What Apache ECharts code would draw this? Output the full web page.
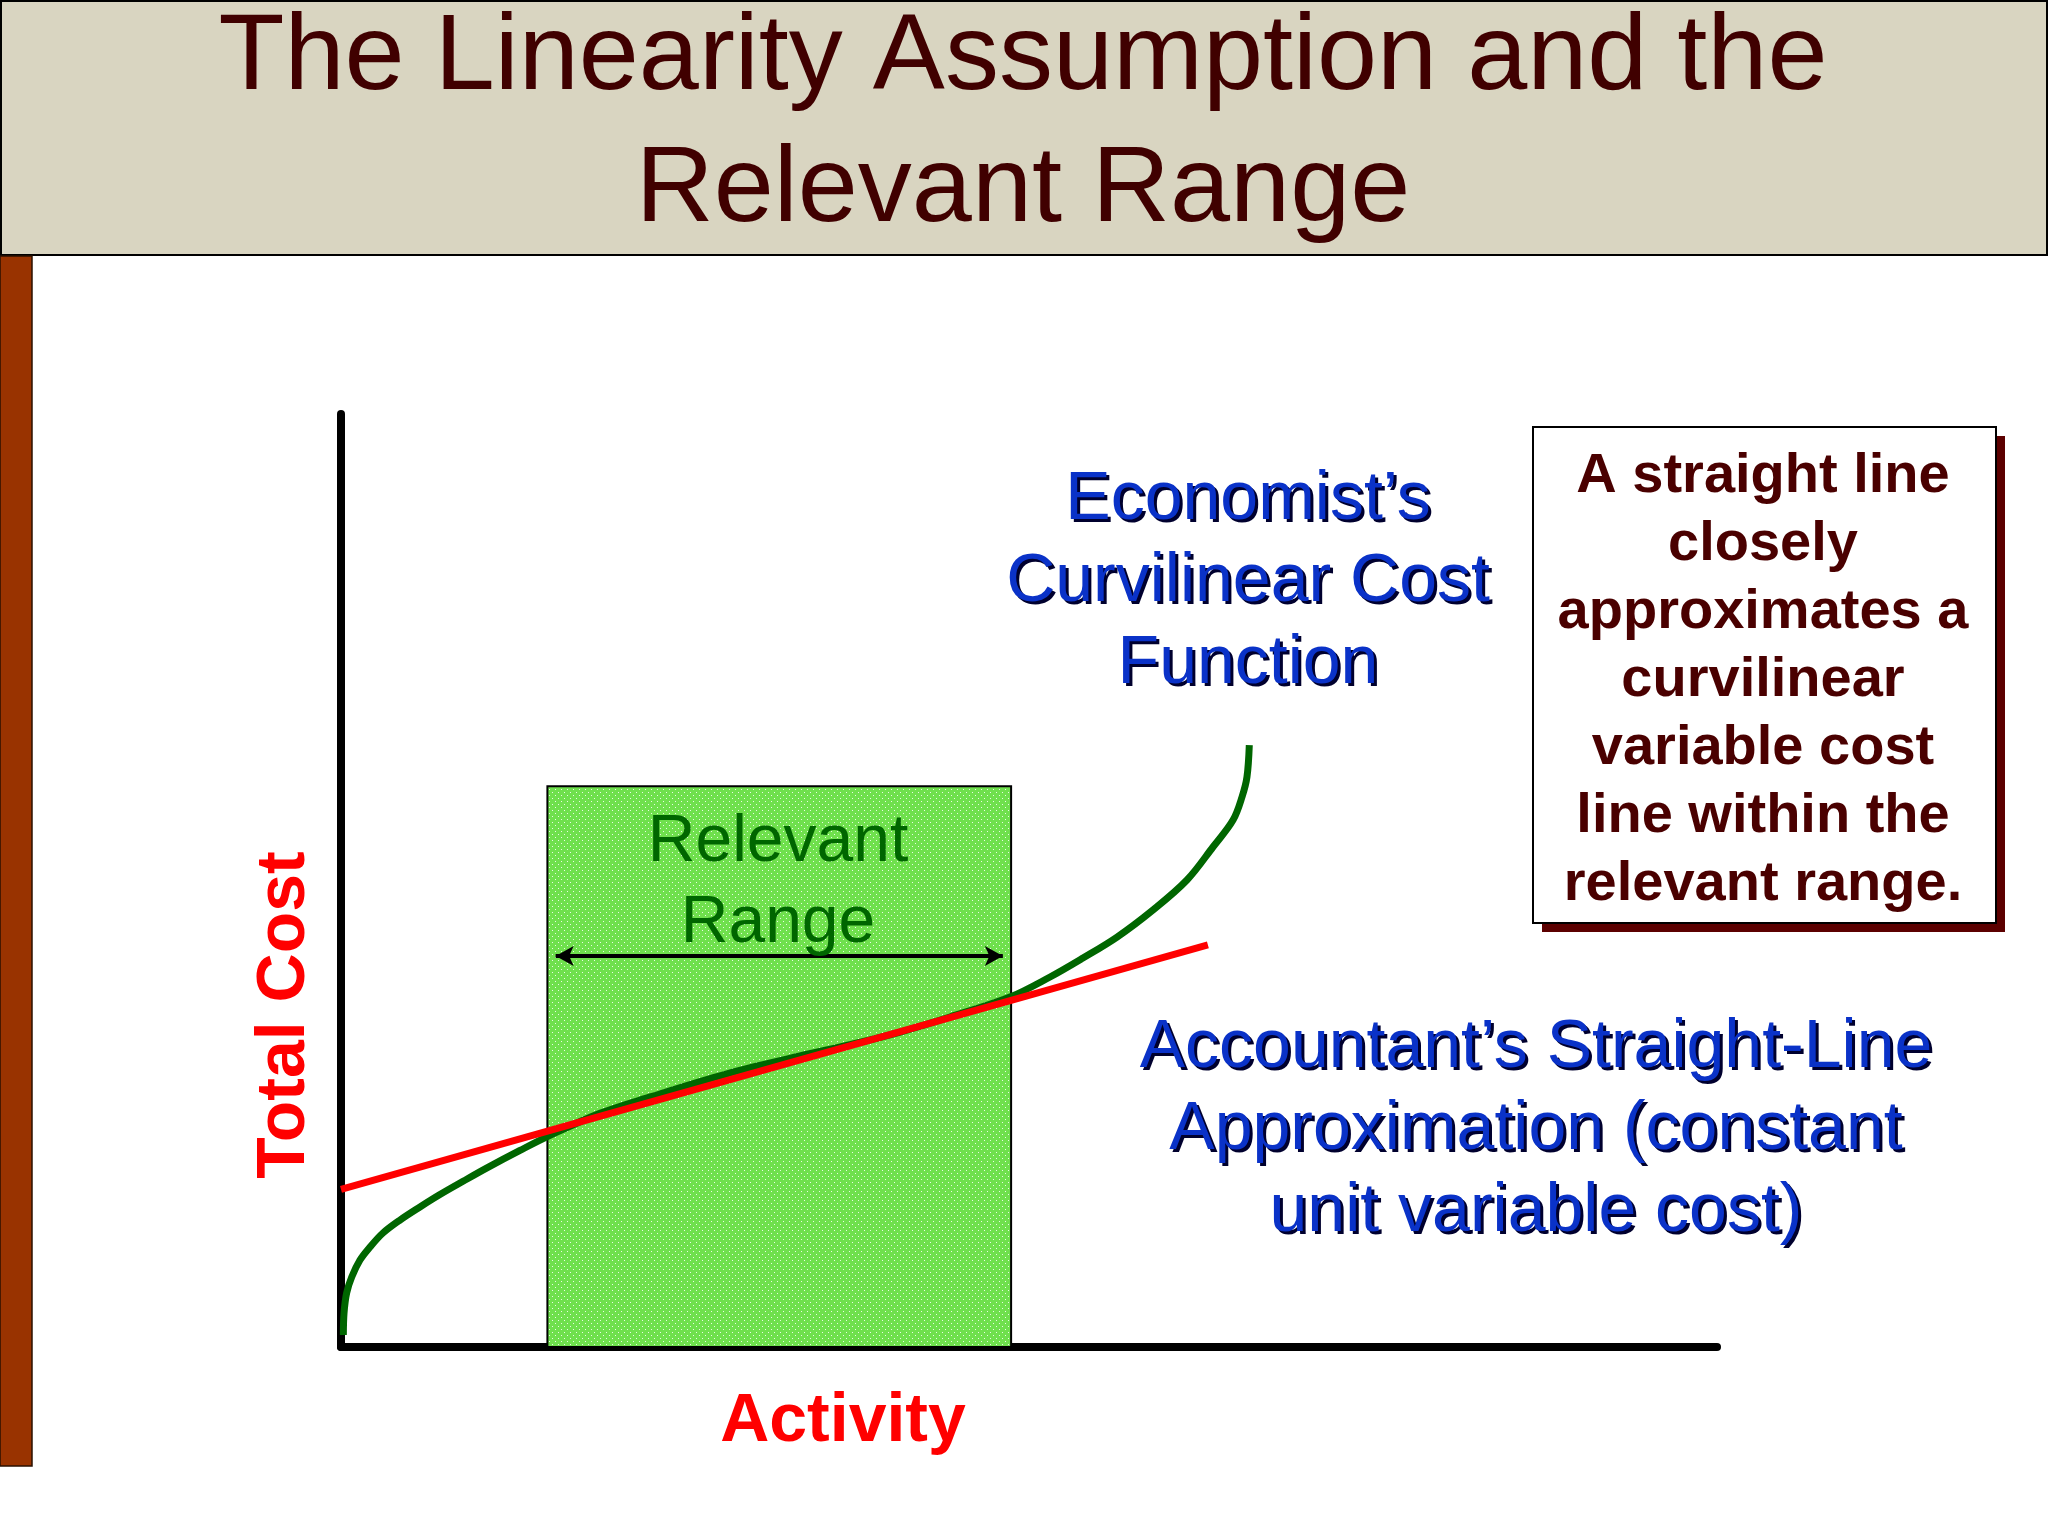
<!DOCTYPE html>
<html>
<head>
<meta charset="utf-8">
<script src="https://cdn.jsdelivr.net/npm/echarts@6/dist/echarts.min.js"></script>
<style>
html,body{margin:0;padding:0;background:#fff;}
#chart{width:2048px;height:1536px;}
</style>
</head>
<body>
<div id="chart"></div>
<script>
// ---- data (chart units: activity 0-100, total cost 0-100) ----
const curveActivity = [0.17, 0.22, 0.41, 0.78, 1.38, 2.11, 3.05, 4.29, 5.74, 7.19, 8.87, 10.61, 13.01, 15.19, 18.82, 22.46, 28.05, 33.36, 37.21, 40.63, 44.26, 48.62, 51.53, 53.92, 56.40, 59.01, 61.48, 63.37, 64.83, 65.48, 65.84, 66.01];
const curveCost     = [1.29, 3.64, 5.79, 7.50, 9.32, 10.72, 12.22, 13.61, 15.01, 16.34, 17.76, 19.20, 21.07, 22.68, 25.04, 26.80, 29.28, 31.19, 32.48, 33.76, 35.37, 37.51, 39.66, 41.69, 43.94, 46.84, 50.05, 53.59, 56.48, 58.95, 61.09, 64.52];
const lineActivity  = [0, 63.0];
const lineCost      = [16.9, 43.1];
const relevantRange = [15.0, 48.7];
const rangeTop      = 60.1;
const arrowLevel    = 41.9;

const titleLines = ['The Linearity Assumption and the', 'Relevant Range'];
const economistLabel = "Economist’s\nCurvilinear Cost\nFunction";
const accountantLabel = "Accountant’s Straight-Line\nApproximation (constant\nunit variable cost)";
const boxLabel = "A straight line\nclosely\napproximates a\ncurvilinear\nvariable cost\nline within the\nrelevant range.";
const rangeLabel = "Relevant\nRange";
const xName = 'Activity';
const yName = 'Total Cost';

const FONT = "'Liberation Sans', Arial, sans-serif";

// dotted green fill pattern
const pc = document.createElement('canvas');
pc.width = 6; pc.height = 6;
const g = pc.getContext('2d');
g.fillStyle = '#6fe04d'; g.fillRect(0, 0, 6, 6);
g.fillStyle = 'rgba(255,255,255,0.85)';
g.fillRect(0, 0, 1, 1); g.fillRect(3, 3, 1, 1);
const greenPattern = { image: pc, repeat: 'repeat' };

const chart = echarts.init(document.getElementById('chart'), null, { renderer: 'canvas' });

function blueText(text, x, y) {
  return [
    { type: 'text', z: 100, x: x + 3, y: y + 3, style: { text: text, fill: '#00002e', font: '68px ' + FONT, align: 'center', verticalAlign: 'middle', lineHeight: 82 } },
    { type: 'text', z: 101, x: x, y: y, style: { text: text, fill: '#0a32c8', font: '68px ' + FONT, align: 'center', verticalAlign: 'middle', lineHeight: 82 } }
  ];
}

const option = {
  animation: false,
  backgroundColor: '#ffffff',
  grid: { left: 341, right: 331, top: 414, bottom: 189, containLabel: false },
  xAxis: {
    type: 'value', min: 0, max: 100,
    axisLine: { show: true, lineStyle: { color: '#000', width: 8 } },
    axisTick: { show: false }, axisLabel: { show: false }, splitLine: { show: false }
  },
  yAxis: {
    type: 'value', min: 0, max: 100,
    axisLine: { show: true, lineStyle: { color: '#000', width: 8 } },
    axisTick: { show: false }, axisLabel: { show: false }, splitLine: { show: false }
  },
  series: [
    {
      type: 'custom', z: 1,
      data: [[relevantRange[0], relevantRange[1], rangeTop]],
      encode: { x: [0, 1], y: 2 },
      renderItem: function (params, api) {
        const p0 = api.coord([api.value(0), api.value(2)]);
        const p1 = api.coord([api.value(1), 0]);
        return {
          type: 'rect',
          shape: { x: p0[0], y: p0[1], width: p1[0] - p0[0], height: p1[1] - p0[1] },
          style: { fill: greenPattern, stroke: '#000', lineWidth: 2 }
        };
      },
      markLine: {
        silent: true,
        symbol: ['arrow', 'arrow'],
        symbolSize: [15, 18],
        lineStyle: { color: '#000', width: 4, type: 'solid' },
        label: { show: false },
        data: [[{ coord: [relevantRange[0] + 0.6, arrowLevel] }, { coord: [relevantRange[1] - 0.6, arrowLevel] }]]
      }
    },
    {
      type: 'line', z: 3,
      data: curveActivity.map((a, i) => [a, curveCost[i]]),
      smooth: 0.35,
      symbol: 'none',
      lineStyle: { color: '#006600', width: 7, cap: 'butt', join: 'round' }
    },
    {
      type: 'line', z: 4,
      data: lineActivity.map((a, i) => [a, lineCost[i]]),
      symbol: 'none',
      lineStyle: { color: '#ff0000', width: 7, cap: 'butt' }
    }
  ],
  graphic: [
    // title band
    { type: 'rect', z: 0, shape: { x: 1, y: 1, width: 2046, height: 254 }, style: { fill: '#d9d5c1', stroke: '#000', lineWidth: 2 } },
    { type: 'text', z: 10, x: 1023, y: 59, style: { text: titleLines[0], fill: '#400000', font: '108px ' + FONT, align: 'center', verticalAlign: 'middle' } },
    { type: 'text', z: 10, x: 1023, y: 191, style: { text: titleLines[1], fill: '#400000', font: '108px ' + FONT, align: 'center', verticalAlign: 'middle' } },
    // left brown bar
    { type: 'rect', z: 0, shape: { x: 0, y: 256, width: 32, height: 1210 }, style: { fill: '#993300', stroke: '#2a1000', lineWidth: 1.5 } },
    // axis names
    { type: 'text', z: 10, x: 285, y: 1015, rotation: Math.PI / 2, style: { text: yName, fill: '#ff0000', font: 'bold 68px ' + FONT, align: 'center', verticalAlign: 'middle' } },
    { type: 'text', z: 10, x: 843, y: 1422, style: { text: xName, fill: '#ff0000', font: 'bold 68px ' + FONT, align: 'center', verticalAlign: 'middle' } },
    // relevant range label
    { type: 'text', z: 50, x: 778, y: 883, style: { text: rangeLabel, fill: '#006600', font: '66px ' + FONT, align: 'center', verticalAlign: 'middle', lineHeight: 81 } },
    // blue labels
    ...blueText(economistLabel, 1248, 582),
    ...blueText(accountantLabel, 1536, 1130),
    // explanation box
    { type: 'rect', z: 20, shape: { x: 1542, y: 436, width: 463, height: 496 }, style: { fill: '#5c0000' } },
    { type: 'rect', z: 21, shape: { x: 1533, y: 427, width: 463, height: 496 }, style: { fill: '#ffffff', stroke: '#000', lineWidth: 2 } },
    { type: 'text', z: 22, x: 1763, y: 681, style: { text: boxLabel, fill: '#4a0000', font: 'bold 56px ' + FONT, align: 'center', verticalAlign: 'middle', lineHeight: 68 } }
  ]
};
chart.setOption(option);
</script>
</body>
</html>
